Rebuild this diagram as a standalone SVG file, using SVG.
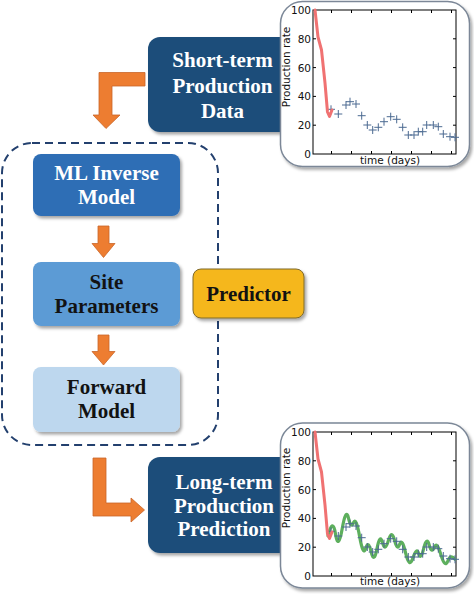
<svg xmlns="http://www.w3.org/2000/svg" xmlns:xlink="http://www.w3.org/1999/xlink" width="474" height="594" viewBox="0 0 474 594">
<style>
.t{font-family:"Liberation Serif","Times New Roman",serif;font-weight:bold;font-size:21px;text-anchor:middle}
.w{fill:#ffffff}
.d{fill:#121212}
.ax{font-family:"DejaVu Sans","Liberation Sans",sans-serif;font-size:10.5px;fill:#111}
.arr{fill:#ED7D31;stroke:#C9662A;stroke-width:0.8}
.panel{fill:#ffffff;stroke:#7b8797;stroke-width:1.5}
.frame{fill:none;stroke:#000;stroke-width:1}
.red{fill:none;stroke:#F07272;stroke-width:3;stroke-linejoin:round;stroke-linecap:round}
.grn{fill:none;stroke:#5DAF5D;stroke-width:3.2;stroke-linejoin:round;stroke-linecap:round}
.cr{fill:none;stroke:#4C6A92;stroke-width:1}
</style>
<defs>
<filter id="sh" x="-10%" y="-10%" width="130%" height="130%">
<feDropShadow dx="2" dy="2.5" stdDeviation="1.5" flood-color="#000" flood-opacity="0.35"/>
</filter>
<path id="x" class="cr" d="M-4 0H4M0-4V4"/>
<path id="ticks" fill="none" stroke="#000" stroke-width="1" d="M313 38.8h3M313 67.6h3M313 96.4h3M313 125.2h3M456 38.8h-3M456 67.6h-3M456 96.4h-3M456 125.2h-3M331.5 154v-3M351.5 154v-3M371.5 154v-3M391.5 154v-3M411.5 154v-3M431.5 154v-3M451.5 154v-3M331.5 10v3M351.5 10v3M371.5 10v3M391.5 10v3M411.5 10v3M431.5 10v3M451.5 10v3"/>
<path id="redline" class="red" d="M315 10 L318 37 L321.5 50 L325 83 L327.5 112 L329.5 116.5 L332 110"/>
<g id="crosses">
<use xlink:href="#x" x="331" y="109.3"/><use xlink:href="#x" x="338.3" y="114"/><use xlink:href="#x" x="346" y="105"/><use xlink:href="#x" x="350" y="101.7"/><use xlink:href="#x" x="356" y="104"/><use xlink:href="#x" x="361.7" y="115.7"/><use xlink:href="#x" x="367.3" y="125"/><use xlink:href="#x" x="372.7" y="130"/><use xlink:href="#x" x="378.3" y="127.3"/><use xlink:href="#x" x="384" y="121.7"/><use xlink:href="#x" x="390.7" y="116.7"/><use xlink:href="#x" x="396.7" y="119.3"/><use xlink:href="#x" x="402.7" y="127.3"/><use xlink:href="#x" x="408.3" y="135"/><use xlink:href="#x" x="414" y="135"/><use xlink:href="#x" x="418.3" y="131.7"/><use xlink:href="#x" x="422.7" y="131.7"/><use xlink:href="#x" x="426.7" y="125"/><use xlink:href="#x" x="433.3" y="125"/><use xlink:href="#x" x="438.3" y="126.7"/><use xlink:href="#x" x="443.3" y="134"/><use xlink:href="#x" x="450" y="136.7"/><use xlink:href="#x" x="455" y="137.3"/>
</g>
</defs>

<g id="predictor-container">
<rect x="2" y="143" width="216" height="302" rx="30" fill="none" stroke="#23406E" stroke-width="2" stroke-dasharray="8 5"/>
</g>

<g id="connectors">
<path class="arr" d="M99 72.5H145V86H112V115H120L106 128.5L93 115H99Z"/>
<path class="arr" d="M98 226H109V243.5H115L103.5 257.5L92 243.5H98Z"/>
<path class="arr" d="M98 335H109V351.5H115L103.5 365L92 351.5H98Z"/>
<path class="arr" d="M93 458H106V503H131V498L144.5 510L131 522V516H93Z"/>
</g>

<g id="short-term">
<rect x="148" y="37" width="150" height="95" rx="12" fill="#1F4E7A" filter="url(#sh)"/>
<text class="t w" x="222.5" y="67">Short-term</text>
<text class="t w" x="222.5" y="93">Production</text>
<text class="t w" x="222.5" y="117.5">Data</text>
</g>

<g id="long-term">
<rect x="148" y="457" width="150" height="96" rx="12" fill="#1F4E7A" filter="url(#sh)"/>
<text class="t w" x="224" y="488.5">Long-term</text>
<text class="t w" x="224" y="512.5">Production</text>
<text class="t w" x="224" y="536">Prediction</text>
</g>

<g id="ml-inverse">
<rect x="33" y="154" width="147" height="62" rx="8" fill="#2E6EB5" filter="url(#sh)"/>
<text class="t w" x="106.5" y="180">ML Inverse</text>
<text class="t w" x="106.5" y="203.5">Model</text>
</g>

<g id="site-parameters">
<rect x="33" y="262" width="147" height="64" rx="8" fill="#5B9BD5" filter="url(#sh)"/>
<text class="t d" x="106.5" y="289">Site</text>
<text class="t d" x="106.5" y="313">Parameters</text>
</g>

<g id="forward-model">
<rect x="33" y="367" width="147" height="65" rx="8" fill="#BDD7EE" filter="url(#sh)"/>
<text class="t d" x="106.5" y="394">Forward</text>
<text class="t d" x="106.5" y="417.5">Model</text>
</g>

<g id="predictor">
<rect x="193" y="269" width="111" height="49" rx="8" fill="#F5B71C" stroke="#7F6A2A" stroke-width="1" filter="url(#sh)"/>
<text class="t d" x="248.5" y="301">Predictor</text>
</g>

<g id="chart-short">
<rect class="panel" x="280.5" y="1.5" width="189" height="165" rx="22" filter="url(#sh)"/>
<rect class="frame" x="313" y="10" width="143" height="144"/>
<use xlink:href="#ticks"/>
<text class="ax" x="311" y="14" text-anchor="end">100</text>
<text class="ax" x="311" y="42.8" text-anchor="end">80</text>
<text class="ax" x="311" y="71.6" text-anchor="end">60</text>
<text class="ax" x="311" y="100.4" text-anchor="end">40</text>
<text class="ax" x="311" y="129.2" text-anchor="end">20</text>
<text class="ax" x="311" y="158" text-anchor="end">0</text>
<text class="ax" x="390" y="164" text-anchor="middle" font-size="11">time (days)</text>
<text class="ax" transform="translate(290 67) rotate(-90)" text-anchor="middle" font-size="11.5">Production rate</text>
<use xlink:href="#crosses"/>
<use xlink:href="#redline"/>
</g>

<g id="chart-long">
<rect class="panel" x="280.5" y="423" width="189" height="165" rx="22" filter="url(#sh)"/>
<rect class="frame" x="313" y="432" width="143" height="144"/>
<use xlink:href="#ticks" y="422"/>
<text class="ax" x="311" y="436" text-anchor="end">100</text>
<text class="ax" x="311" y="464.8" text-anchor="end">80</text>
<text class="ax" x="311" y="493.6" text-anchor="end">60</text>
<text class="ax" x="311" y="522.4" text-anchor="end">40</text>
<text class="ax" x="311" y="551.2" text-anchor="end">20</text>
<text class="ax" x="311" y="580" text-anchor="end">0</text>
<text class="ax" x="390" y="585" text-anchor="middle" font-size="11">time (days)</text>
<text class="ax" transform="translate(290 488) rotate(-90)" text-anchor="middle" font-size="11.5">Production rate</text>
<path class="grn" d="M328,536 Q332.7,516.8 335.5,533.95 Q338.3,551.1 342.15,529 Q346,506.9 348.5,518.08 Q351,529.25 353.5,522.68 Q356,516.1 359.65,536.6 Q363.3,557.1 365.8,548.3 Q368.3,539.5 371.15,551.85 Q374,564.2 377,548.58 Q380,532.95 382.5,542.68 Q385,552.4 388.35,540.63 Q391.7,528.85 394.5,540.15 Q397.3,551.45 399.65,544.35 Q402,537.25 405.65,553.18 Q409.3,569.1 413,557.85 Q416.7,546.6 418.7,553.75 Q420.7,560.9 423.7,548.4 Q426.7,535.9 429.2,545 Q431.7,554.1 434.2,547.38 Q436.7,540.65 440.85,554.6 Q445,568.55 447.85,561.03 Q450.7,553.5 455,559.3"/>
<use xlink:href="#crosses" y="422"/>
<use xlink:href="#redline" y="422"/>
</g>
</svg>
